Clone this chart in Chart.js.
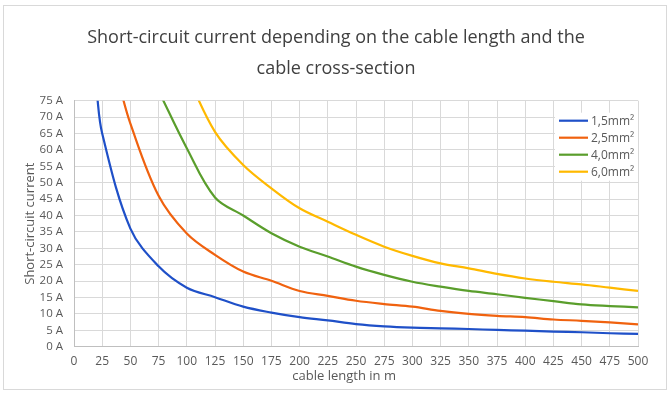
<!DOCTYPE html>
<html>
<head>
<meta charset="utf-8">
<script src="https://cdn.jsdelivr.net/npm/chart.js@4.4.1/dist/chart.umd.min.js"></script>
<style>
  html, body { margin: 0; padding: 0; background: #ffffff; }
  canvas { display: block; }
</style>
</head>
<body>
<canvas id="c" width="672" height="395"></canvas>
<script>
// ---- data ----
const titleLines = ["Short-circuit current depending on the cable length and the", "cable cross-section"];
const xAxisTitle = "cable length in m";
const yAxisTitle = "Short-circuit current";
const seriesNames = ["1,5mm²", "2,5mm²", "4,0mm²", "6,0mm²"];

const len15 = [20, 25, 50, 75, 100, 125, 150, 175, 200, 225, 250, 275, 300, 325, 350, 375, 400, 425, 450, 475, 500];
const cur15 = [78, 65, 36, 24.5, 18, 15.1, 12.2, 10.4, 9.0, 8.0, 6.9, 6.2, 5.8, 5.6, 5.4, 5.1, 4.9, 4.6, 4.4, 4.1, 3.9];

const len25 = [40, 50, 75, 100, 125, 150, 175, 200, 225, 250, 275, 300, 325, 350, 375, 400, 425, 450, 475, 500];
const cur25 = [80, 68, 46, 34.5, 28, 22.9, 20.1, 17.0, 15.5, 14.0, 13.0, 12.2, 10.9, 10.0, 9.4, 9.0, 8.3, 7.9, 7.4, 6.8];

const len40 = [75, 100, 125, 150, 175, 200, 225, 250, 275, 300, 325, 350, 375, 400, 425, 450, 475, 500];
const cur40 = [78, 60.5, 45.5, 40, 34.6, 30.5, 27.5, 24.4, 21.9, 19.8, 18.3, 17.0, 16.0, 14.9, 13.9, 12.9, 12.4, 12.0];

const len60 = [100, 125, 150, 175, 200, 225, 250, 275, 300, 325, 350, 375, 400, 425, 450, 475, 500];
const cur60 = [83, 65.5, 55.4, 48.3, 42.2, 38.1, 34.1, 30.5, 27.7, 25.4, 23.9, 22.2, 20.8, 19.8, 19.0, 18.0, 17.0];

const xTicks = [0, 25, 50, 75, 100, 125, 150, 175, 200, 225, 250, 275, 300, 325, 350, 375, 400, 425, 450, 475, 500];
const yTicks = [0, 5, 10, 15, 20, 25, 30, 35, 40, 45, 50, 55, 60, 65, 70, 75];
const yUnit = " A";

// ---- styles ----
const colors = ["#1f50c8", "#f0620f", "#5a9e2c", "#ffb900"];
const textColor = "#595959";
const titleColor = "#404040";
const gridColor = "#d9d9d9";
const FONT = "'Open Sans', 'Liberation Sans', sans-serif";

function pts(xs, ys) { return xs.map((x, i) => ({ x: x, y: ys[i] })); }
const lens = [len15, len25, len40, len60];
const curs = [cur15, cur25, cur40, cur60];

const datasets = seriesNames.map((n, i) => ({
  label: n,
  data: pts(lens[i], curs[i]),
  borderColor: colors[i],
  backgroundColor: colors[i],
  borderWidth: 2.2,
  pointRadius: 0,
  showLine: true,
  fill: false,
  tension: 0.35
}));

const frame = {
  id: 'frame',
  beforeDraw(chart) {
    const ctx = chart.ctx;
    ctx.save();
    ctx.fillStyle = '#ffffff';
    ctx.fillRect(0, 0, chart.width, chart.height);
    ctx.strokeStyle = '#d9d9d9';
    ctx.lineWidth = 1;
    ctx.strokeRect(3.5, 5.5, 663, 384);
    ctx.restore();
  }
};

const insideLegend = {
  id: 'insideLegend',
  afterDatasetsDraw(chart) {
    const ctx = chart.ctx;
    const a = chart.chartArea;
    const boxL = a.right - 83, boxT = a.top + 12, boxW = 83, boxH = 68;
    ctx.save();
    ctx.fillStyle = '#ffffff';
    ctx.fillRect(boxL, boxT, boxW, boxH);
    ctx.font = "12px " + FONT;
    ctx.textBaseline = 'middle';
    ctx.textAlign = 'left';
    chart.data.datasets.forEach((ds, i) => {
      const y = a.top + 20 + i * 17;
      ctx.strokeStyle = ds.borderColor;
      ctx.lineWidth = 2.2;
      ctx.beginPath();
      ctx.moveTo(a.right - 79, y);
      ctx.lineTo(a.right - 50, y);
      ctx.stroke();
      ctx.fillStyle = textColor;
      ctx.fillText(ds.label, a.right - 47, y + 0.5);
    });
    ctx.restore();
  }
};

new Chart(document.getElementById('c'), {
  type: 'scatter',
  data: { datasets: datasets },
  plugins: [frame, insideLegend],
  options: {
    responsive: false,
    animation: false,
    events: [],
    layout: { padding: { left: 0, right: 0, top: 0, bottom: 0 } },
    plugins: {
      legend: { display: false },
      tooltip: { enabled: false },
      title: {
        display: true,
        text: titleLines,
        color: titleColor,
        font: { family: FONT, size: 18, weight: '400', lineHeight: 31 / 18 },
        padding: { top: 22, bottom: 16.7 }
      }
    },
    scales: {
      x: {
        type: 'linear',
        min: 0, max: 500,
        afterBuildTicks: s => { s.ticks = xTicks.map(v => ({ value: v })); },
        grid: { color: gridColor, lineWidth: 1, drawTicks: false },
        border: { color: '#bfbfbf', width: 1 },
        ticks: { color: textColor, font: { family: FONT, size: 12 }, padding: 8, maxRotation: 0, autoSkip: false },
        title: { display: true, text: xAxisTitle + "\u00a0".repeat(7), color: textColor, font: { family: FONT, size: 13 }, padding: { top: 0, bottom: 10.5 } },
        afterFit: s => { s.height = 48.3; }
      },
      y: {
        type: 'linear',
        min: 0, max: 75,
        afterBuildTicks: s => { s.ticks = yTicks.map(v => ({ value: v })); },
        grid: { color: gridColor, lineWidth: 1, drawTicks: false },
        border: { color: '#bfbfbf', width: 1 },
        ticks: { color: textColor, font: { family: FONT, size: 11.5 }, padding: 11, autoSkip: false, callback: v => v + yUnit },
        title: { display: true, text: yAxisTitle, color: textColor, font: { family: FONT, size: 13 }, padding: { top: 22, bottom: 0 } },
        afterFit: s => { s.width = 74; }
      },
      yRight: {
        type: 'linear',
        position: 'right',
        min: 0, max: 75,
        grid: { display: false, drawTicks: false },
        border: { display: false },
        ticks: { display: false },
        afterFit: s => { s.width = 34; }
      }
    }
  }
});
</script>
</body>
</html>
